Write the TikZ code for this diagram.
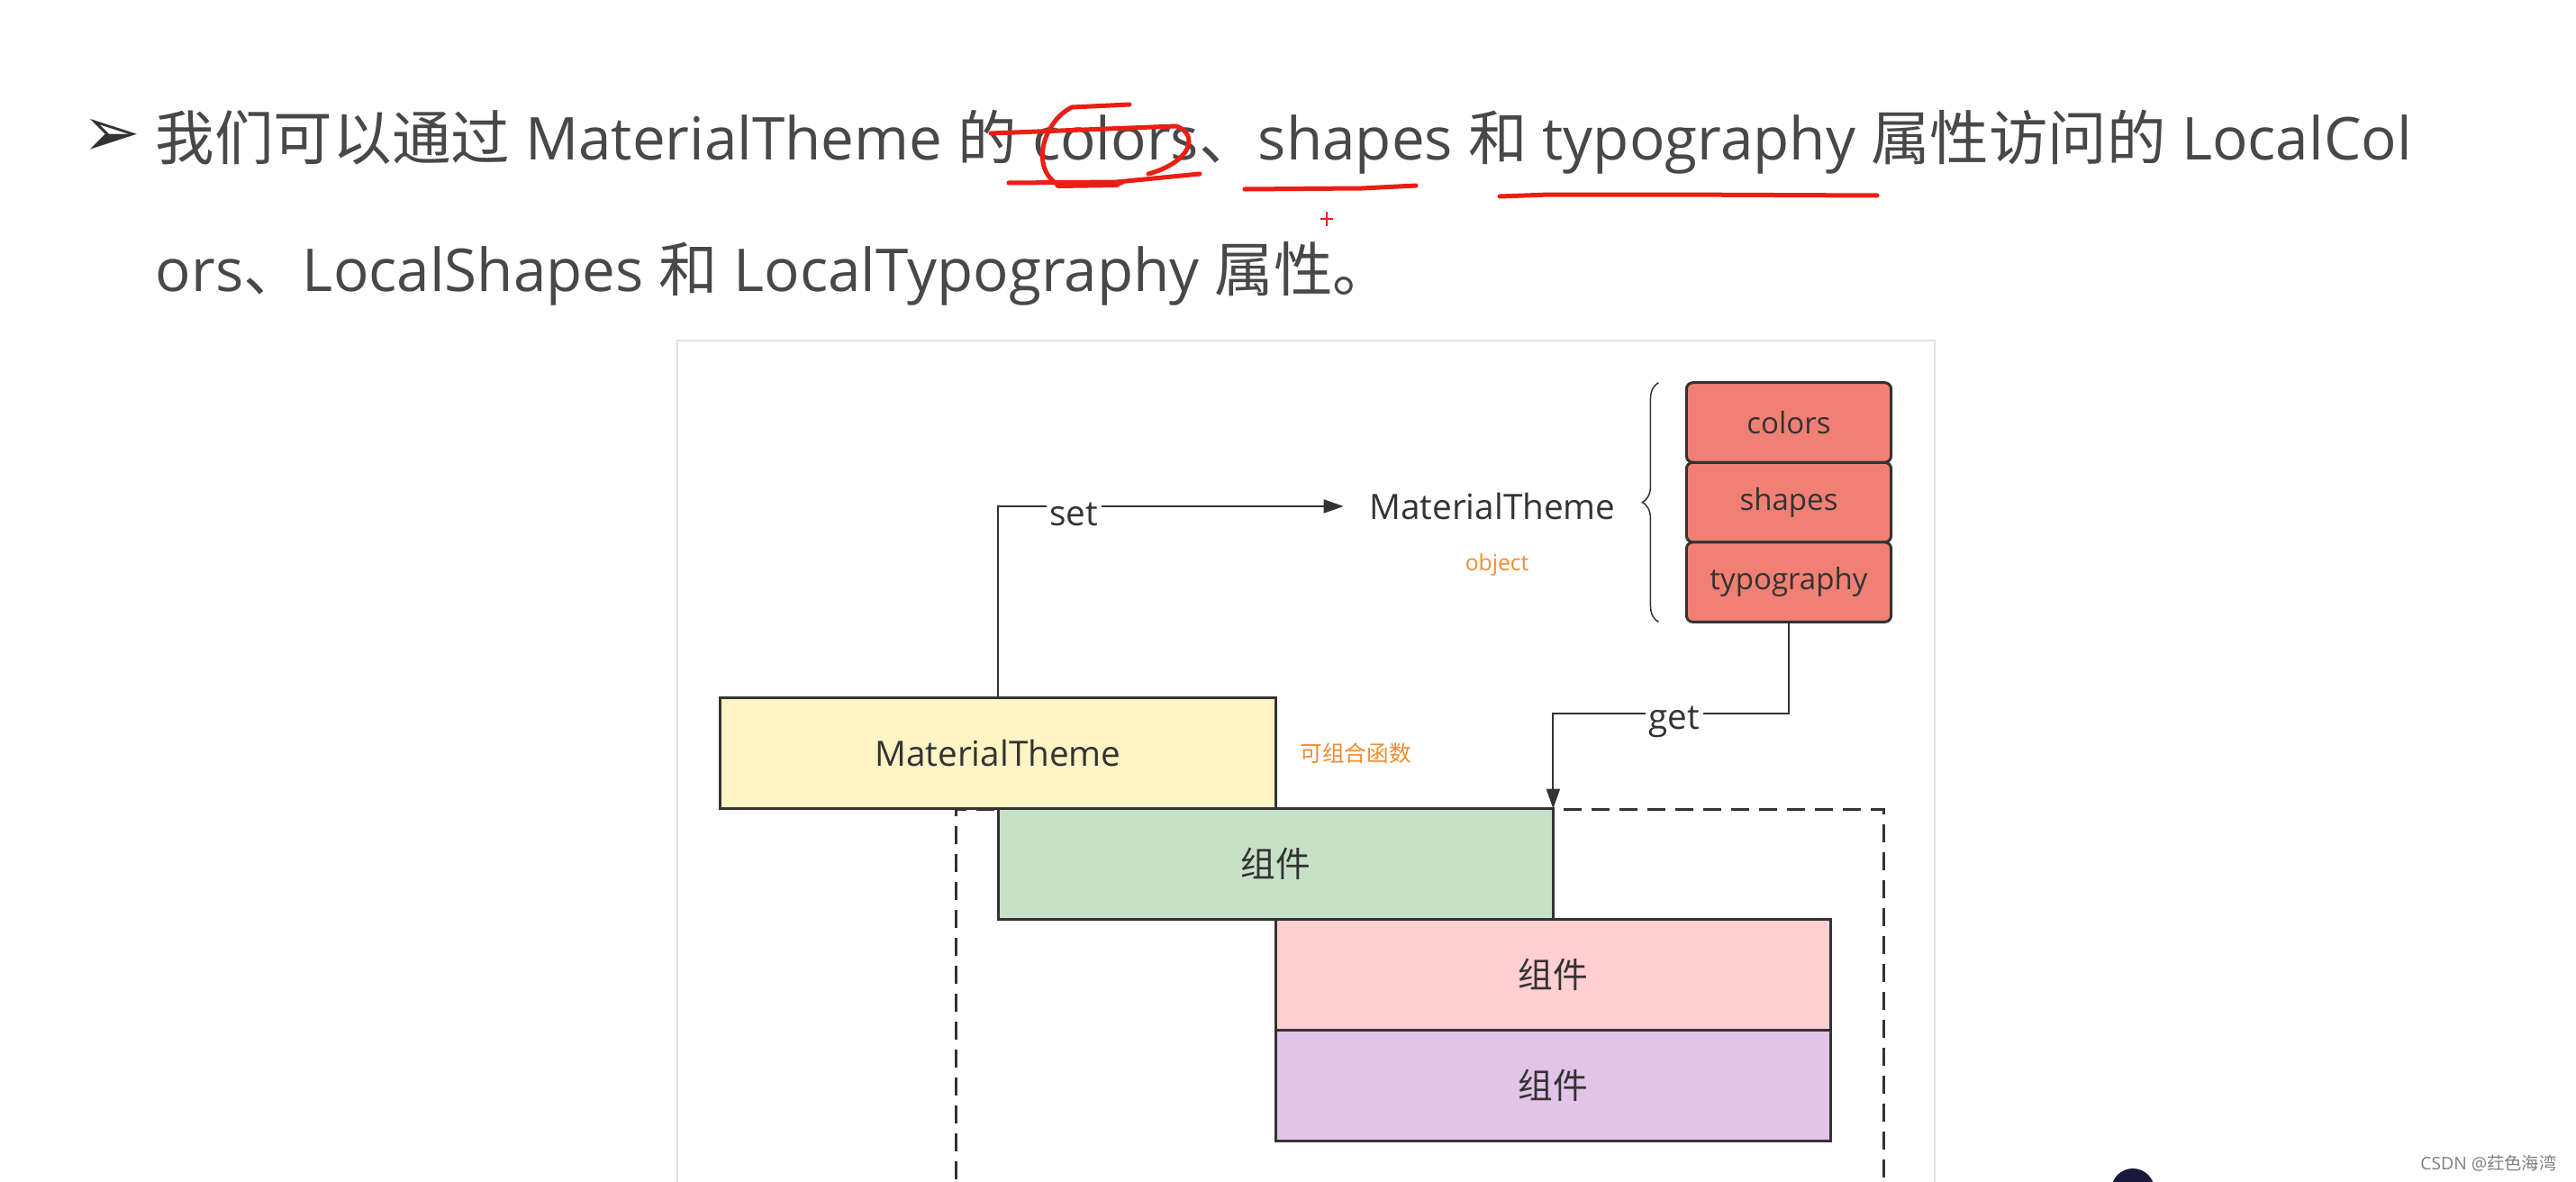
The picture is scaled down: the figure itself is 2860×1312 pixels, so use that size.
\documentclass[tikz,border=0pt]{standalone}
\usepackage{fontspec}
\setmainfont{Open Sans}
\newfontfamily\zhfont{Noto Sans CJK SC}
\newfontfamily\symfont{DejaVu Sans}
\usetikzlibrary{positioning, calc, arrows.meta, decorations.pathreplacing}
\definecolor{textgray}{RGB}{72,72,72}
\definecolor{linegray}{RGB}{51,51,51}
\definecolor{framegray}{RGB}{226,226,226}
\definecolor{themeyellow}{RGB}{255,244,195}
\definecolor{compgreen}{RGB}{198,225,200}
\definecolor{comppink}{RGB}{255,207,209}
\definecolor{comppurple}{RGB}{225,196,232}
\definecolor{attrsalmon}{RGB}{240,128,115}
\definecolor{noteorange}{RGB}{240,140,45}
\definecolor{penred}{RGB}{235,30,20}
\definecolor{blobnavy}{RGB}{25,25,60}

\begin{document}
\begin{tikzpicture}[
        x=0.01cm, y=-0.01cm,
        bodytext/.style={font=\fontsize{18.65}{22}\selectfont, text=textgray, inner sep=0pt},
        comp/.style={rectangle, draw=linegray, line width=0.03cm, outer sep=0pt, minimum width=6.16cm, minimum height=1.23cm, align=center, font=\fontsize{11}{13}\selectfont, text=linegray},
        attr/.style={rectangle, draw=linegray, fill=attrsalmon, line width=0.03cm, outer sep=0pt, rounded corners=2pt, minimum width=2.27cm, minimum height=0.885cm, font=\fontsize{9.4}{11}\selectfont, text=linegray},
        tagtext/.style={font=\fontsize{11}{13}\selectfont, text=linegray},
        edgetext/.style={fill=white, inner sep=1pt, font=\fontsize{11}{13}\selectfont, text=linegray},
        note/.style={font=\fontsize{7}{8}\selectfont, text=noteorange},
        arrow/.style={-{Triangle[length=0.22cm, width=0.15cm]}, draw=linegray, line width=0.02cm},
        groupline/.style={draw=linegray, line width=0.03cm, dash pattern=on 0.2cm off 0.11cm},
        pen/.style={draw=penred, line width=0.05cm, line cap=round, line join=round}
    ]
        \useasboundingbox[fill=white] (0,0) rectangle (2860,1312);

        % text above the diagram
        \node[bodytext, font=\fontsize{22}{24}\selectfont, text=linegray] (bullet) at (124,153) {\symfont ➢};
        \node[bodytext, anchor=base west] (line1) at (172,177) {{\zhfont 我们可以通过} MaterialTheme {\zhfont 的} colors{\zhfont 、}shapes {\zhfont 和} typography {\zhfont 属性访问的} LocalCol};
        \node[bodytext, anchor=base west] (line2) at (172,323) {ors{\zhfont 、}LocalShapes {\zhfont 和} LocalTypography {\zhfont 属性。}};

        % frame of the diagram
        \draw[framegray, line width=0.02cm] (752,1330) |- (2148,378) -- (2148,1330);
        \draw[groupline] (1061,1340) |- (2091,898) -- (2091,1340);

        % composables
        \node[comp, fill=themeyellow] (theme) at (1108,836) {MaterialTheme};
        \node[note, right=0.15cm of theme] (compnote) {\zhfont 可组合函数};
        \node[comp, fill=compgreen, anchor=north west] (comp1) at (theme.south) {\zhfont 组件};
        \node[comp, fill=comppink, anchor=north west] (comp2) at (comp1.south) {\zhfont 组件};
        \node[comp, fill=comppurple, below=0pt of comp2] (comp3) {\zhfont 组件};

        % theme object
        \node[attr] (colors) at (1986,469) {colors};
        \node[attr, below=0pt of colors] (shapes) {shapes};
        \node[attr, below=0pt of shapes] (typo) {typography};
        \draw[linegray, line width=0.015cm, decorate, decoration={brace, amplitude=0.18cm}]
            ($(typo.south west)+(-31,0)$) -- ($(colors.north west)+(-31,0)$);
        \node[tagtext, inner xsep=0.28cm] (mtobj) at (1657,562) {MaterialTheme};
        \node[note] (objnote) at (1662,627) {object};

        \draw[arrow] (theme.north) |- node[pos=0.61, edgetext, yshift=-0.09cm] {set} (mtobj.west);
        \draw[arrow] (typo.south) -- ++(0,102) -| node[pos=0.243, edgetext, yshift=-0.09cm] {get} (comp1.north east);

        % pen marks
        \draw[pen] (1254,116) -- (1190,119) .. controls (1158,135) and (1145,185) .. (1172,203) -- (1245,203);
        \draw[pen] (1100,148) -- (1306,140) .. controls (1332,150) and (1322,180) .. (1275,193);
        \draw[pen] (1120,203) -- (1240,202) -- (1332,193);
        \draw[pen, line width=0.08cm] (1175,205) -- (1240,204);
        \draw[pen] (1382,210) -- (1512,209) -- (1572,206);
        \draw[pen] (1665,218) -- (1720,216) -- (1855,216) -- (2084,217);
        \draw[penred, line width=0.02cm] (1473,235) -- (1473,251) (1466,243) -- (1480,243);

        % page details
        \node[font=\fontsize{5.5}{6}\selectfont, text=gray, anchor=east] (csdn) at (2851,1291) {CSDN @{\zhfont 荭色海湾}};
        \fill[blobnavy] (2368,1321) circle (0.24cm);
    \end{tikzpicture}
\end{document}
